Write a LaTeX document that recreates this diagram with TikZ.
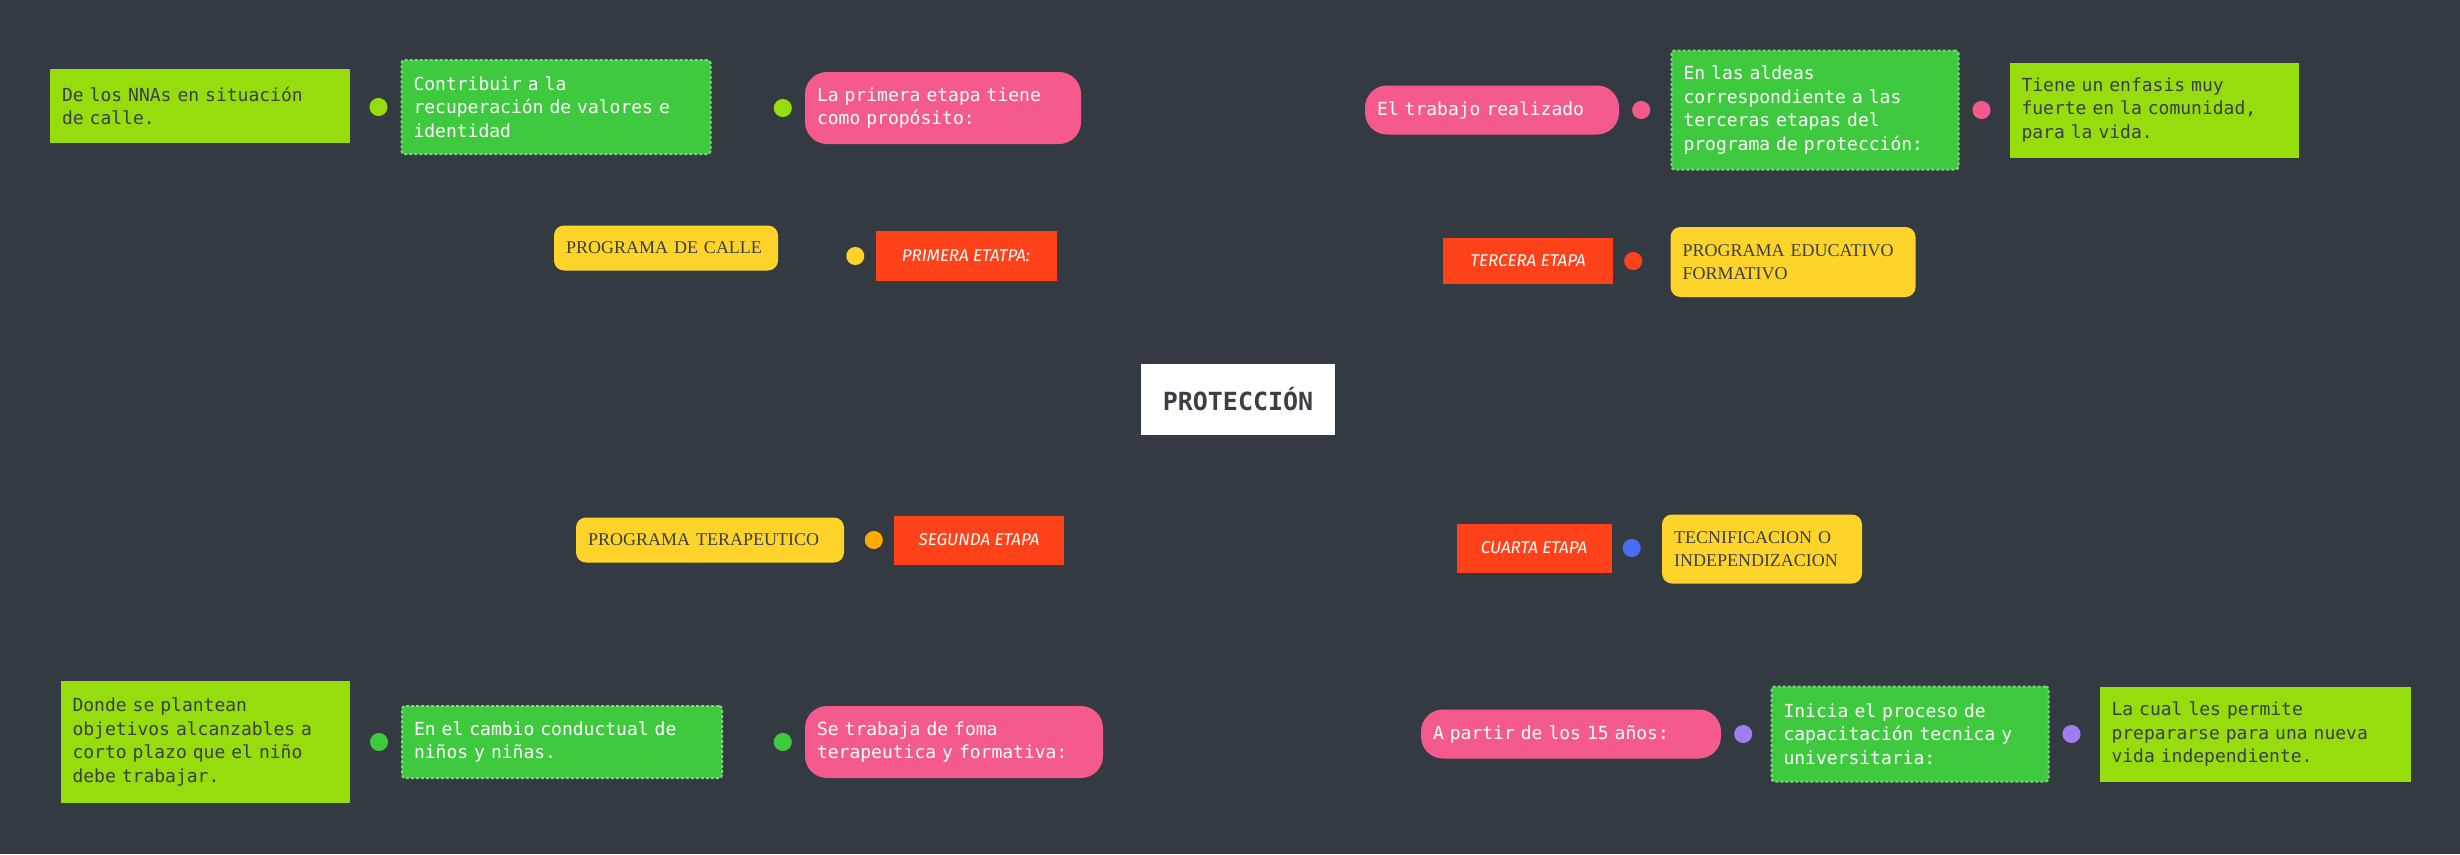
\documentclass[tikz,border=0pt]{standalone}
\usepackage{fontspec}
\setmainfont{Liberation Serif}
\newfontfamily\monof{DejaVu Sans Mono}
\newfontfamily\itf{Fira Sans}
\usetikzlibrary{calc}
\pgfdeclarelayer{bg}\pgfsetlayers{bg,main}
\definecolor{bgc}{RGB}{52,58,66}
\definecolor{pinkc}{RGB}{245,90,140}
\definecolor{limec}{RGB}{151,220,12}
\definecolor{greenc}{RGB}{62,201,62}
\definecolor{yelc}{RGB}{255,212,42}
\definecolor{redc}{RGB}{255,66,25}
\definecolor{orc}{RGB}{255,170,0}
\definecolor{bluec}{RGB}{74,108,247}
\definecolor{purc}{RGB}{160,126,240}
\definecolor{darkt}{RGB}{58,63,71}
\tikzset{x=1pt,y=-1pt,
 base/.style={inner xsep=12pt,inner ysep=0pt,align=left,anchor=center},
 mono/.style={font=\monof\fontsize{18}{23.5}\selectfont},
 pinkbox/.style={base,mono,fill=pinkc,text=white,rounded corners=22pt},
 greenbox/.style={base,mono,fill=greenc,text=white,draw=greenc!70!white,densely dashed,line width=2pt,rounded corners=3pt},
 limebox/.style={base,mono,fill=limec,text=darkt},
 yelbox/.style={base,fill=yelc,text=darkt,rounded corners=10pt,font=\fontsize{18}{23}\selectfont},
 redbox/.style={base,fill=redc,text=white,align=center,font=\itf\itshape\fontsize{17}{20}\selectfont},
 ln/.style={line width=3pt},
 ring/.style={circle,draw,fill=bgc,line width=3pt,minimum size=15pt,inner sep=0pt},
}
\newcommand{\bx}[6]{\node[#1,minimum width=#4pt,minimum height=#5pt,text width=#4pt-24pt] (#6) at (#2,#3)}
\begin{document}
\begin{tikzpicture}
\fill[bgc] (0,0) rectangle (2460,854);
\useasboundingbox (0,0) rectangle (2460,854);
\node[fill=white,minimum width=194pt,minimum height=71pt,text=darkt,font=\monof\bfseries\fontsize{25}{28}\selectfont] (c) at (1238,399) {PROTECCIÓN};
% left
\bx{pinkbox}{943}{108}{276}{72}{p1} {La primera etapa tiene\\como propósito:};
\bx{greenbox}{556}{107}{309}{94}{g1} {Contribuir a la\\recuperación de valores e\\identidad};
\bx{limebox}{200}{106}{300}{74}{l1} {De los NNAs en situación\\de calle.};
\node[redbox,minimum width=181pt,minimum height=50pt] (r1) at (966,256) {PRIMERA ETATPA:};
\bx{yelbox}{666}{248}{224}{45}{y1} {PROGRAMA DE CALLE};
\node[redbox,minimum width=170pt,minimum height=49pt] (r2) at (979,540) {SEGUNDA ETAPA};
\bx{yelbox}{710}{540}{268}{45}{y2} {PROGRAMA TERAPEUTICO};
\bx{pinkbox}{954}{742}{298}{72}{p2} {Se trabaja de foma\\terapeutica y formativa:};
\bx{greenbox}{562}{742}{320}{72}{g2} {En el cambio conductual de\\niños y niñas.};
\bx{limebox}{205}{742}{289}{122}{l2} {Donde se plantean\\objetivos alcanzables a\\corto plazo que el niño\\debe trabajar.};
% right
\bx{pinkbox}{1492}{110}{254}{49}{p3} {El trabajo realizado};
\bx{greenbox}{1815}{110}{287}{119}{g3} {En las aldeas\\correspondiente a las\\terceras etapas del\\programa de protección:};
\bx{limebox}{2154}{110}{289}{95}{l3} {Tiene un enfasis muy\\fuerte en la comunidad,\\para la vida.};
\node[redbox,minimum width=170pt,minimum height=46pt] (r3) at (1528,261) {TERCERA ETAPA};
\bx{yelbox}{1793}{262}{245}{70}{y3} {PROGRAMA EDUCATIVO\\FORMATIVO};
\node[redbox,minimum width=155pt,minimum height=49pt] (r4) at (1534,548) {CUARTA ETAPA};
\bx{yelbox}{1762}{549}{200}{69}{y4} {TECNIFICACION O\\INDEPENDIZACION};
\bx{pinkbox}{1571}{734}{300}{49}{p4} {A partir de los 15 años:};
\bx{greenbox}{1910}{734}{277}{95}{g4} {Inicia el proceso de\\capacitación tecnica y\\universitaria:};
\bx{limebox}{2255}{734}{311}{95}{l4} {La cual les permite\\prepararse para una nueva\\vida independiente.};
\begin{pgfonlayer}{bg}
\draw[ln,limec] (1232,390) -- ($(p1.east)+(-4,-20)$);
\draw[ln,yelc] (1225,390) -- ($(r1.east)+(0,0)$);
\draw[ln,orc] (1225,410) -- (r2.east);
\draw[ln,greenc] (1232,410) -- ($(p2.east)+(-4,0)$);
\draw[ln,pinkc] (1245,390) -- (p3.west);
\draw[ln,redc] (1250,390) -- (r3.west);
\draw[ln,bluec] (1250,410) -- (r4.west);
\draw[ln,purc] (1245,410) -- (p4.west);
% small links
\draw[ln,limec] (g1.east) -- (p1.west);
\draw[ln,limec] (l1.east) -- (g1.west);
\draw[ln,yelc] (y1.east) -- (r1.west);
\draw[ln,orc] (y2.east) -- (r2.west);
\draw[ln,greenc] (g2.east) -- (p2.west);
\draw[ln,greenc] (l2.east) -- (g2.west);
\draw[ln,pinkc] (p3.east) -- (g3.west);
\draw[ln,pinkc] (g3.east) -- (l3.west);
\draw[ln,redc] (r3.east) -- (y3.west);
\draw[ln,bluec] (r4.east) -- (y4.west);
\draw[ln,purc] (p4.east) -- (g4.west);
\draw[ln,purc] (g4.east) -- (l4.west);
\end{pgfonlayer}
\node[ring,limec] at ($(p1.west)+(-22,0)$) {};
\node[ring,limec] at ($(g1.west)+(-22,0)$) {};
\node[ring,yelc] at ($(r1.west)+(-20,0)$) {};
\node[ring,orc] at ($(r2.west)+(-20,0)$) {};
\node[ring,greenc] at ($(p2.west)+(-22,0)$) {};
\node[ring,greenc] at ($(g2.west)+(-22,0)$) {};
\node[ring,pinkc] at ($(p3.east)+(22,0)$) {};
\node[ring,pinkc] at ($(g3.east)+(22,0)$) {};
\node[ring,redc] at ($(r3.east)+(20,0)$) {};
\node[ring,bluec] at ($(r4.east)+(20,0)$) {};
\node[ring,purc] at ($(p4.east)+(22,0)$) {};
\node[ring,purc] at ($(g4.east)+(22,0)$) {};
\end{tikzpicture}
\end{document}
